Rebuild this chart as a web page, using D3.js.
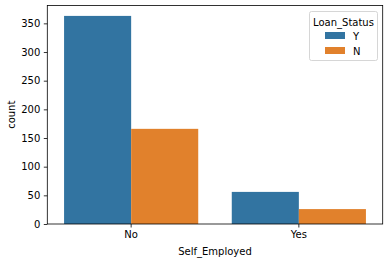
<!DOCTYPE html>
<html>
<head>
<meta charset="utf-8">
<script src="https://cdn.jsdelivr.net/npm/d3@7"></script>
<style>
body { margin: 0; background: #fff; }
text { font-family: "DejaVu Sans", sans-serif; font-size: 10px; fill: #000; }
</style>
</head>
<body>
<svg id="chart" width="389" height="263"></svg>
<script>
// counts
var categories = ["No", "Yes"],
    hues = ["Y", "N"],
    countsY = [363, 56],
    countsN = [166, 26],
    yTicks = [0, 50, 100, 150, 200, 250, 300, 350],
    colors = ["#3274a1", "#e1812c"];

window.onload = function()
{
    main();
};

function main()
{
    var svg = d3.select("#chart"),
        left = 47.3, right = 382.7, top = 5.5, bottom = 224,
        series = [countsY, countsN],
        maxVal = d3.max(series, function(s) { return d3.max(s); });

    var x = d3.scaleBand().domain(categories).range([left, right]).paddingInner(0).paddingOuter(0),
        inner = d3.scaleBand().domain(hues).range([0, x.bandwidth() * 0.8]),
        y = d3.scaleLinear().domain([0, maxVal * 1.05]).range([bottom, top]);

    // bars, one group per hue
    hues.forEach(function(h, i)
    {
        svg.append("g").selectAll("rect")
            .data(series[i])
            .enter().append("rect")
            .attr("x", function(d, j) { return x(categories[j]) + x.bandwidth() * 0.1 + inner(h); })
            .attr("y", function(d) { return y(d); })
            .attr("width", inner.bandwidth())
            .attr("height", function(d) { return y(0) - y(d); })
            .attr("fill", colors[i]);
    });

    // axes
    var yAxis = svg.append("g")
        .attr("transform", "translate(" + left + ",0)")
        .call(d3.axisLeft(y).tickValues(yTicks).tickSize(3.5).tickPadding(3.5));
    var xAxis = svg.append("g")
        .attr("transform", "translate(0," + bottom + ")")
        .call(d3.axisBottom(x).tickSize(3.5).tickPadding(3.5));
    [xAxis, yAxis].forEach(function(a)
    {
        a.select(".domain").remove();
        a.selectAll("line").attr("stroke", "#000").attr("stroke-width", 0.8);
        a.selectAll("text").attr("font-size", null).attr("font-family", null).attr("fill", "#000");
        a.attr("font-size", null).attr("font-family", null);
    });

    // frame
    svg.append("rect")
        .attr("x", left).attr("y", top)
        .attr("width", right - left).attr("height", bottom - top)
        .attr("fill", "none").attr("stroke", "#000").attr("stroke-width", 0.8);

    // axis labels
    svg.append("text")
        .attr("x", (left + right) / 2).attr("y", 255)
        .attr("text-anchor", "middle")
        .text("Self_Employed");
    svg.append("text")
        .attr("transform", "translate(15," + ((top + bottom) / 2) + ") rotate(-90)")
        .attr("text-anchor", "middle")
        .text("count");

    // legend
    var lg = svg.append("g");
    lg.append("rect")
        .attr("x", 309.5).attr("y", 11.5).attr("width", 68).attr("height", 49)
        .attr("rx", 2).attr("fill", "#fff").attr("fill-opacity", 0.8)
        .attr("stroke", "#ccc").attr("stroke-width", 0.8);
    lg.append("text")
        .attr("x", 343.5).attr("y", 25.5)
        .attr("text-anchor", "middle")
        .text("Loan_Status");
    hues.forEach(function(h, i)
    {
        lg.append("rect")
            .attr("x", 325).attr("y", 32 + i * 15)
            .attr("width", 20).attr("height", 7)
            .attr("fill", colors[i]);
        lg.append("text")
            .attr("x", 353).attr("y", 39.5 + i * 15)
            .text(h);
    });
}
</script>
</body>
</html>
